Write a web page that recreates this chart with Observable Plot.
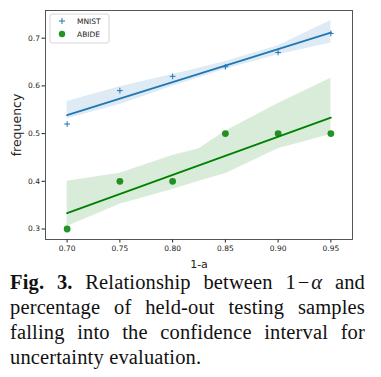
<!DOCTYPE html>
<html><head><meta charset="utf-8">
<script src="https://cdn.jsdelivr.net/npm/d3@7"></script>
<script src="https://cdn.jsdelivr.net/npm/@observablehq/plot@0.6"></script>
<style>
body{margin:0;background:#fff;}
#chart svg{display:block}
#caption{font-family:"Liberation Serif",serif;font-size:20.5px;letter-spacing:0.15px;line-height:25px;width:355px;margin-left:10px;color:#111;}
#caption .l{text-align:justify;text-align-last:justify;white-space:nowrap;}
#caption .last{text-align:left;}
</style></head><body>
<div id="chart"></div>
<div id="caption">
<div class="l"><b>Fig. 3.</b> Relationship between 1&#8202;&#8722;&#8202;<i>α</i> and</div>
<div class="l">percentage of held-out testing samples</div>
<div class="l">falling into the confidence interval for</div>
<div class="last">uncertainty evaluation.</div>
</div>
<script>
const series = ["MNIST", "ABIDE"];
const alpha = [0.70, 0.75, 0.80, 0.85, 0.90, 0.95];
const mnist = [0.52, 0.59, 0.62, 0.64, 0.67, 0.71];
const abide = [0.30, 0.40, 0.40, 0.50, 0.50, 0.50];
// bootstrap confidence bands
const bandX = [0.70, 0.75, 0.80, 0.825, 0.85, 0.90, 0.95];
const mnistLo = [0.531, 0.561, 0.599, 0.617, 0.635, 0.665, 0.690];
const mnistHi = [0.567, 0.598, 0.624, 0.637, 0.651, 0.684, 0.737];
const abideLo = [0.305, 0.352, 0.383, 0.400, 0.416, 0.468, 0.498];
const abideHi = [0.400, 0.417, 0.454, 0.468, 0.505, 0.563, 0.616];
const xTicks = [0.70, 0.75, 0.80, 0.85, 0.90, 0.95];
const yTicks = [0.3, 0.4, 0.5, 0.6, 0.7];

const colors = {MNIST: "#1f77b4", ABIDE: "#008000"};
const pts = alpha.flatMap((a, i) => [
  {x: a, y: mnist[i], s: series[0]},
  {x: a, y: abide[i], s: series[1]}
]);
const bands = bandX.flatMap((a, i) => [
  {x: a, lo: mnistLo[i], hi: mnistHi[i], s: series[0]},
  {x: a, lo: abideLo[i], hi: abideHi[i], s: series[1]}
]);
const ofS = (arr, s) => arr.filter(d => d.s === s);

const svg = Plot.plot({
  width: 381, height: 270,
  marginLeft: 45, marginRight: 29, marginTop: 10, marginBottom: 31,
  style: {fontFamily: "DejaVu Sans", fontSize: "7.5px", color: "#222", background: "white"},
  x: {domain: [0.6795, 0.9705]},
  y: {domain: [0.278, 0.758]},
  marks: [
    Plot.areaY(ofS(bands, "MNIST"), {x: "x", y1: "lo", y2: "hi", fill: colors.MNIST, fillOpacity: 0.15}),
    Plot.areaY(ofS(bands, "ABIDE"), {x: "x", y1: "lo", y2: "hi", fill: colors.ABIDE, fillOpacity: 0.15}),
    Plot.linearRegressionY(ofS(pts, "MNIST"), {x: "x", y: "y", ci: 0, stroke: colors.MNIST, strokeWidth: 1.8}),
    Plot.linearRegressionY(ofS(pts, "ABIDE"), {x: "x", y: "y", ci: 0, stroke: colors.ABIDE, strokeWidth: 1.8}),
    Plot.dot(ofS(pts, "MNIST"), {x: "x", y: "y", symbol: "plus", stroke: colors.MNIST, strokeWidth: 1, r: 2}),
    Plot.dot(ofS(pts, "ABIDE"), {x: "x", y: "y", r: 3.4, fill: colors.ABIDE, fillOpacity: 0.85, stroke: "none"}),
    Plot.axisX({ticks: xTicks, tickFormat: d3.format(".2f"), tickSize: 3.5, tickPadding: 2.5, label: null}),
    Plot.axisY({ticks: yTicks, tickFormat: d3.format(".1f"), tickSize: 3.5, tickPadding: 2, label: null}),
    Plot.axisX({ticks: [], label: "1-a", labelAnchor: "center", labelArrow: "none", labelOffset: 28, fontSize: 11}),
    Plot.axisY({ticks: [], label: "frequency", labelAnchor: "center", labelArrow: "none", labelOffset: 33, fontSize: 12.5}),
    Plot.frame({stroke: "#444", strokeWidth: 0.9})
  ]
});

// legend
const lg = d3.select(svg).append("g").attr("text-anchor", "start");
lg.append("rect").attr("x", 50).attr("y", 14).attr("width", 59).attr("height", 29).attr("rx", 2)
  .attr("fill", "white").attr("fill-opacity", 0.8).attr("stroke", "#ccc").attr("stroke-width", 0.8);
series.forEach((s, i) => {
  const cy = 21 + i * 13;
  if (i === 0) {
    lg.append("path").attr("d", d3.symbol(d3.symbolPlus, 14)()).attr("transform", `translate(62,${cy})`)
      .attr("fill", "none").attr("stroke", colors[s]).attr("stroke-width", 1);
  } else {
    lg.append("circle").attr("cx", 62).attr("cy", cy).attr("r", 3.2).attr("fill", colors[s]).attr("fill-opacity", 0.85);
  }
  lg.append("text").attr("x", 77).attr("y", cy).attr("dy", "0.35em").attr("font-size", 7.5)
    .attr("font-family", "DejaVu Sans").attr("fill", "#222").text(s);
});

document.getElementById("chart").appendChild(svg);
</script>
</body></html>
